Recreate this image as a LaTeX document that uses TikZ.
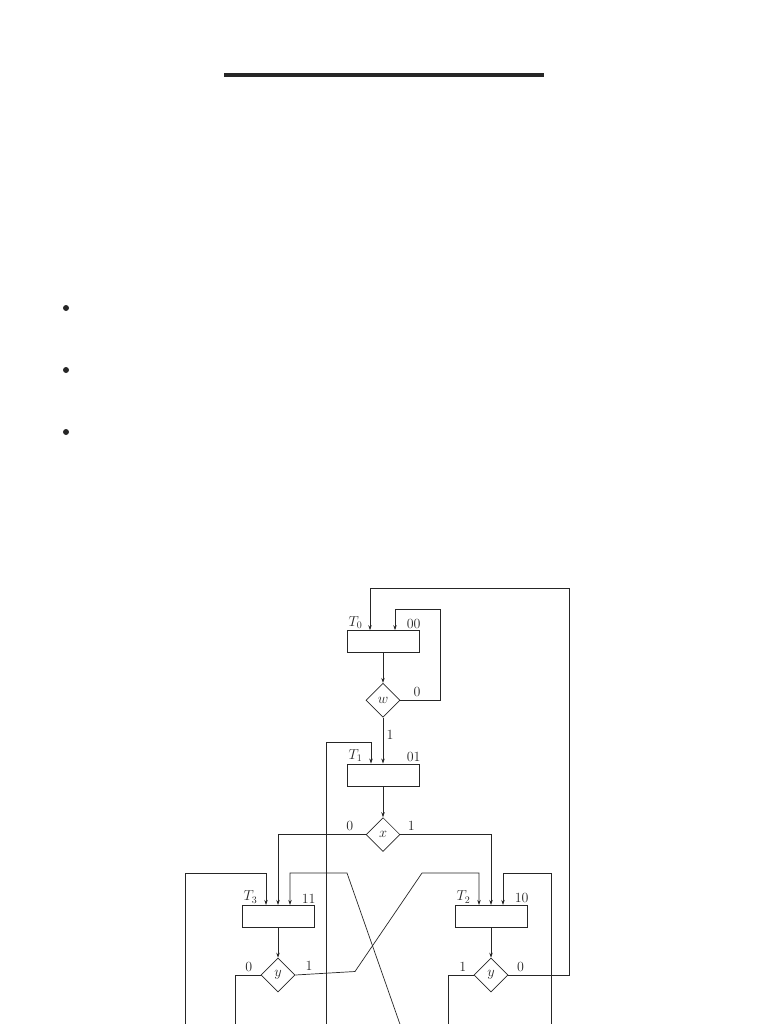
\documentclass[tikz,border=0pt]{standalone}
\usetikzlibrary{shapes.geometric, positioning, arrows.meta}

\begin{document}
\begin{tikzpicture}[x=1pt, y=-1pt, color=black!85, line width=0.7pt,
	>={Stealth[length=5pt, width=3.5pt]},
	every node/.style={font=\fontsize{14}{16}\selectfont},
	box/.style={draw, minimum width=72pt, minimum height=22pt, inner sep=0pt},
	test/.style={draw, diamond, minimum size=34pt, inner sep=0pt},
	tag/.style={inner sep=1.5pt}]

	\useasboundingbox (0,0) rectangle (768,1024);

	% page marks
	\draw[line width=3.5pt] (224,75) -- (544,75);
	\foreach \y in {308, 370, 432}
		\fill (66,\y) circle (3pt);

	% states and tests
	\node[box, label={[tag, anchor=south west]north west:$T_0$}, label={[tag, anchor=south east, xshift=3pt]north east:00}] (t0) at (383,641.5) {};
	\node[test, below=30pt of t0] (w) {$w$};
	\node[box, below=46pt of w, label={[tag, anchor=south west]north west:$T_1$}, label={[tag, anchor=south east, xshift=3pt]north east:01}] (t1) {};
	\node[test, below=31pt of t1] (x) {$x$};
	\node[box, below=53pt of x, xshift=-105pt, label={[tag, anchor=south west]north west:$T_3$}, label={[tag, anchor=south east, xshift=3pt]north east:11}] (t3) {};
	\node[box, below=53pt of x, xshift=108pt, label={[tag, anchor=south west]north west:$T_2$}, label={[tag, anchor=south east, xshift=3pt]north east:10}] (t2) {};
	\node[test, below=30pt of t3] (y3) {$y$};
	\node[test, below=30pt of t2] (y2) {$y$};

	% bends and free ends
	\coordinate (c0) at (440,609);
	\coordinate (c1) at (569,588);
	\coordinate (b1) at (326,1030);
	\coordinate (k1) at (326,742);
	\coordinate (b3) at (185,1030);
	\coordinate (k3) at (185,873);
	\coordinate (e3) at (402,1030);
	\coordinate (m3) at (347,873);
	\coordinate (d1) at (355,971.5);
	\coordinate (d2) at (422,873);
	\coordinate (b4) at (551,1030);
	\coordinate (k4) at (551,873);
	\coordinate (b2) at (448,1030);
	\coordinate (b5) at (235,1030);

	\draw [->]
		(t0) edge (w)
		(w) edge node[right, pos=0.38]{1} (t1)
		(t1) edge (x)
		(t3) edge (y3)
		(t2) edge (y2)
		;

	\draw[->] (w.east) -| node[above, pos=0.21]{0} (c0) -| ([xshift=12pt]t0.north);
	\draw[->] (y2.east) -| node[above, pos=0.1]{0} (c1) -| ([xshift=-13pt]t0.north);
	\draw[->] (b1) -- (k1) -| ([xshift=-12pt]t1.north);
	\draw[->] (x.west) -| node[above, pos=0.09]{0} (t3.north);
	\draw[->] (x.east) -| node[above, pos=0.06]{1} (t2.north);
	\draw[->] (b3) -- (k3) -| ([xshift=-12pt]t3.north);
	\draw[->] (e3) -- (m3) -| ([xshift=12pt]t3.north);
	\draw[->] (y3.east) -- node[above, pos=0.23]{1} (d1) -- (d2) -| ([xshift=-12pt]t2.north);
	\draw[->] (b4) -- (k4) -| ([xshift=12pt]t2.north);
	\draw (y3.west) -| node[above, pos=0.23]{0} (b5);
	\draw (y2.west) -| node[above, pos=0.21]{1} (b2);
\end{tikzpicture}
\end{document}
